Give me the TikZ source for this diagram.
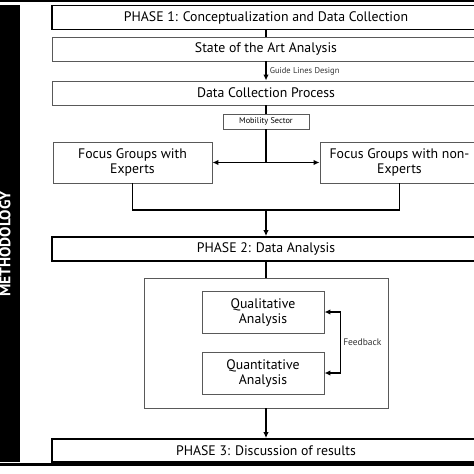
\documentclass[tikz,border=0pt]{standalone}
\usepackage{fontspec}
\setmainfont{PT Sans}
\setsansfont{PT Sans}
\usepackage{tikz}
\usetikzlibrary{arrows.meta, positioning, calc}
\tikzset{
  phasebox/.style={
    draw, line width=1.8pt, align=center, fill=white,
    font=\sffamily\fontsize{13.8}{15}\selectfont,
    minimum width=428pt, minimum height=24pt, inner sep=0pt
  },
  stepbox/.style={
    draw=gray!70!black, line width=0.9pt, align=center, fill=white,
    font=\sffamily\fontsize{13.8}{15}\selectfont,
    minimum width=428pt, minimum height=24pt, inner sep=0pt
  },
  groupbox/.style={
    stepbox, minimum width=159pt, minimum height=41pt
  },
  analysisbox/.style={
    stepbox, minimum width=122pt, minimum height=42pt
  },
  tagbox/.style={
    stepbox, font=\sffamily\fontsize{8.3}{9}\selectfont,
    minimum width=86pt, minimum height=15pt
  },
  flowline/.style={line width=1.6pt},
  flowarrow/.style={
    -{Latex[length=6pt,width=5.5pt]}, line width=1.6pt
  },
  flowlabel/.style={
    font=\sffamily\fontsize{8.5}{9}\selectfont, text=black!80
  },
}

\begin{document}
\begin{tikzpicture}[x=1pt, y=-1pt]
  \clip (0,0) rectangle (474,474);
  \useasboundingbox (0,0) rectangle (474,474);

  % --- frame and side bar ---
  \draw[line width=2.5pt] (0,1) -- (474,1);
  \draw[line width=3pt] (0,464) -- (474,464);
  \fill[black] (0,5) rectangle (20,462);
  \node[rotate=90, text=white, font=\sffamily\bfseries\fontsize{15.5}{17}\selectfont]
    (method) at (5,244) {METHODOLOGY};

  % --- Phase 1 ---
  \node[phasebox] (phaseone) at (266,17.5)
    {PHASE 1: Conceptualization and Data Collection};
  \node[stepbox] (stateart) at (266,49) {State of the Art Analysis};
  \node[stepbox] (datacoll) at (266,93) {Data Collection Process};
  \node[tagbox] (mobility) at (266,121.5) {Mobility Sector};
  \node[groupbox] (fgexperts) at (132.5,162.5) {Focus Groups with\\Experts};
  \node[groupbox] (fgnonexp) at (399.5,162.5) {Focus Groups with non-\\Experts};
  \coordinate (split) at (266,162.5);
  \coordinate (merge) at (266,210);

  % --- Phase 2 ---
  \node[phasebox] (phasetwo) at (266,249) {PHASE 2: Data Analysis};
  \node[stepbox, minimum width=244pt, minimum height=130pt] (analysis) at (266,343) {};
  \node[analysisbox] (quali) at (263,312) {Qualitative\\Analysis};
  \node[analysisbox] (quanti) at (263,373) {Quantitative\\Analysis};

  % --- Phase 3 ---
  \node[phasebox, minimum height=23pt] (phasethree) at (266,450.5)
    {PHASE 3: Discussion of results};

  % --- Connectors ---
  \draw[flowline] (phaseone) -- (stateart);
  \draw[flowarrow] (stateart) -- node[right, flowlabel, inner sep=3pt] {Guide Lines Design} (datacoll);
  \draw[flowline] (datacoll) -- (mobility);
  \draw[flowline] (mobility) -- (split);
  \draw[flowarrow] (split) -- (fgexperts);
  \draw[flowarrow] (split) -- (fgnonexp);
  \draw[flowline] (fgexperts.south) |- (merge) -| (fgnonexp.south);
  \draw[flowarrow] (merge) -- (phasetwo);
  \draw[flowline] (phasetwo) -- (analysis);
  \draw[flowarrow, {Latex[length=6pt,width=5.5pt]}-{Latex[length=6pt,width=5.5pt]}]
    (quali.east) -- ++(16,0) -- node[right, flowlabel, font=\sffamily\fontsize{9.5}{10}\selectfont, inner sep=2pt] {Feedback}
    ++(0,61) -- (quanti.east);
  \draw[flowarrow] (analysis) -- (phasethree);
\end{tikzpicture}
\end{document}
